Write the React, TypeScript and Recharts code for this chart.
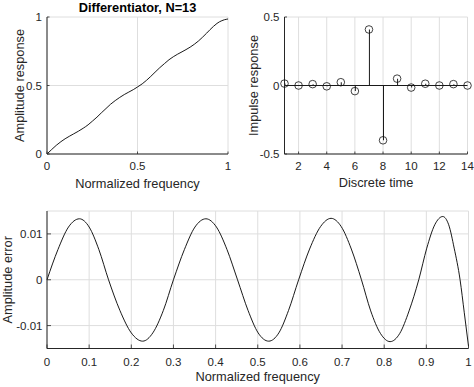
import React from 'react';
import {
  LineChart, Line, XAxis, YAxis, CartesianGrid, ComposedChart, Bar, Scatter, ReferenceLine, Label,
} from 'recharts';

// normalized frequency samples (shared by both frequency plots)
const freq = [
  0, 0.026, 0.051, 0.077, 0.1, 0.123, 0.146, 0.173, 0.2, 0.227, 0.251, 0.276, 0.3,
  0.326, 0.351, 0.377, 0.402, 0.427, 0.452, 0.477, 0.501, 0.526, 0.55, 0.573, 0.597,
  0.623, 0.649, 0.674, 0.698, 0.722, 0.746, 0.768, 0.791, 0.814, 0.837, 0.859, 0.882,
  0.901, 0.92, 0.939, 0.953, 0.966, 0.98, 0.99, 1,
];
const ampResponse = [
  0, 0.033, 0.063, 0.09, 0.111, 0.129, 0.146, 0.166, 0.188, 0.213, 0.24, 0.269, 0.3,
  0.332, 0.363, 0.39, 0.413, 0.434, 0.452, 0.47, 0.49, 0.512, 0.538, 0.566, 0.597,
  0.63, 0.66, 0.688, 0.71, 0.729, 0.746, 0.762, 0.78, 0.801, 0.825, 0.852, 0.882,
  0.908, 0.932, 0.953, 0.965, 0.973, 0.98, 0.983, 0.9855,
];
const ampError = [
  0, 0.0066, 0.0115, 0.0133, 0.0115, 0.0066, 0, -0.0067, -0.0116, -0.0134, -0.0116, -0.0067, 0,
  0.0066, 0.0115, 0.0133, 0.0115, 0.0066, 0, -0.0067, -0.0116, -0.0134, -0.0116, -0.0067, 0,
  0.0067, 0.0116, 0.0134, 0.0116, 0.0067, 0, -0.0068, -0.0117, -0.0135, -0.0117, -0.0068, 0,
  0.0069, 0.012, 0.0138, 0.012, 0.0069, 0, -0.0072, -0.0145,
];

// impulse response
const sampleIndex = [1, 2, 3, 4, 5, 6, 7, 8, 9, 10, 11, 12, 13, 14];
const impulse = [0.014, 0, 0.01, -0.006, 0.024, -0.041, 0.409, -0.4, 0.05, -0.015, 0.013, 0, 0.01, 0];

const halfTicks = [0, 0.5, 1];
const tenthTicks = [0, 0.1, 0.2, 0.3, 0.4, 0.5, 0.6, 0.7, 0.8, 0.9, 1];
const timeTicks = [2, 4, 6, 8, 10, 12, 14];
const impulseTicks = [-0.5, 0, 0.5];
const errorTicks = [-0.01, 0, 0.01];

const responseRows = freq.map((f, i) => ({ f, a: ampResponse[i] }));
const errorRows = freq.map((f, i) => ({ f, e: ampError[i] }));
const impulseRows = sampleIndex.map((n, i) => ({ n, h: impulse[i] }));

const FONT = '"Liberation Sans", Arial, Helvetica, sans-serif';
const INK = '#262626';
const GRID = '#dedede';

type Side = 'bottom' | 'top' | 'left' | 'right';

// matlab style inward ticks
const tick = (side: Side, len: number, gap: number, labels = true) => (p: any) => {
  const { x, y, payload } = p;
  let seg;
  if (side === 'bottom') seg = <line x1={x} y1={y - gap} x2={x} y2={y - gap - len} />;
  else if (side === 'top') seg = <line x1={x} y1={y + gap} x2={x} y2={y + gap + len} />;
  else if (side === 'left') seg = <line x1={x + gap} y1={y} x2={x + gap + len} y2={y} />;
  else seg = <line x1={x - gap} y1={y} x2={x - gap - len} y2={y} />;
  return (
    <g>
      <g stroke={INK} strokeWidth={0.8}>{seg}</g>
      {labels && (
        <text x={x} y={y} dy={side === 'bottom' ? '0.71em' : '0.355em'}
          textAnchor={side === 'bottom' ? 'middle' : 'end'}
          fontSize={11.5} fontFamily={FONT} fill={INK}>
          {String(payload.value)}
        </text>
      )}
    </g>
  );
};

const xTitle = (text: string, baseline: number) => (p: any) => {
  const vb = p.viewBox;
  return (
    <text x={vb.x + vb.width / 2} y={baseline} textAnchor="middle" fontSize={12.8} fontFamily={FONT} fill={INK}>
      {text}
    </text>
  );
};

const yTitle = (text: string, cx: number) => (p: any) => {
  const vb = p.viewBox;
  const cy = vb.y + vb.height / 2;
  return (
    <text x={cx} y={cy} dy="0.355em" transform={`rotate(-90 ${cx} ${cy})`} textAnchor="middle"
      fontSize={12.8} fontFamily={FONT} fill={INK}>
      {text}
    </text>
  );
};

const plotTitle = (text: string, baseline: number) => (p: any) => {
  const vb = p.viewBox;
  return (
    <text x={vb.x + vb.width / 2} y={baseline} textAnchor="middle" fontSize={12.8} fontWeight="bold"
      fontFamily={FONT} fill="#000">
      {text}
    </text>
  );
};

const axisLine = { stroke: INK, strokeWidth: 1 };

const Circle = (p: any) => (
  <circle cx={p.cx} cy={p.cy} r={3.8} fill="none" stroke="#111" strokeWidth={0.8} />
);

export default function App() {
  return (
    <div style={{ position: 'absolute', left: 0, top: 0, width: 474, height: 387, background: '#fff' }}>
      <div style={{ position: 'absolute', left: 0, top: 0 }}>
        <LineChart width={234} height={195} data={responseRows} margin={{ top: 17, right: 6, bottom: 0, left: 0 }}>
          <CartesianGrid stroke={GRID} />
          <XAxis dataKey="f" type="number" domain={[0, 1]} ticks={halfTicks} interval={0} height={41}
            tickSize={0} tickMargin={8} tick={tick('bottom', 2.5, 8)} axisLine={axisLine}>
            <Label content={xTitle('Normalized frequency', 187.5)} />
            <Label content={plotTitle('Differentiator, N=13', 11.5)} />
          </XAxis>
          <XAxis xAxisId="t" orientation="top" dataKey="f" type="number" domain={[0, 1]} ticks={halfTicks}
            interval={0} height={0} tickSize={0} tickMargin={0} tick={tick('top', 2.5, 0, false)} axisLine={axisLine} />
          <YAxis type="number" domain={[0, 1]} ticks={halfTicks} interval={0} width={47}
            tickSize={0} tickMargin={5} tick={tick('left', 2.5, 5)} axisLine={axisLine}>
            <Label content={yTitle('Amplitude response', 19)} />
          </YAxis>
          <YAxis yAxisId="r" orientation="right" type="number" domain={[0, 1]} ticks={halfTicks} interval={0}
            width={0} tickSize={0} tickMargin={0} tick={tick('right', 2.5, 0, false)} axisLine={axisLine} />
          <Line dataKey="a" type="monotone" dot={false} stroke="#000" strokeWidth={0.9} isAnimationActive={false} />
        </LineChart>
      </div>

      <div style={{ position: 'absolute', left: 234, top: 0 }}>
        <ComposedChart width={240} height={195} data={impulseRows} margin={{ top: 17, right: 6.5, bottom: 0, left: 0 }}>
          <CartesianGrid stroke={GRID} />
          <XAxis dataKey="n" type="number" domain={[1, 14]} ticks={timeTicks} interval={0} height={41}
            tickSize={0} tickMargin={8} tick={tick('bottom', 2.5, 8)} axisLine={axisLine}>
            <Label content={xTitle('Discrete time', 186.5)} />
          </XAxis>
          <XAxis xAxisId="t" orientation="top" dataKey="n" type="number" domain={[1, 14]} ticks={timeTicks}
            interval={0} height={0} tickSize={0} tickMargin={0} tick={tick('top', 2.5, 0, false)} axisLine={axisLine} />
          <YAxis type="number" domain={[-0.5, 0.5]} ticks={impulseTicks} interval={0} width={50.5}
            tickSize={0} tickMargin={5} tick={tick('left', 2.5, 5)} axisLine={axisLine}>
            <Label content={yTitle('Impulse response', 19)} />
          </YAxis>
          <YAxis yAxisId="r" orientation="right" type="number" domain={[-0.5, 0.5]} ticks={impulseTicks} interval={0}
            width={0} tickSize={0} tickMargin={0} tick={tick('right', 2.5, 0, false)} axisLine={axisLine} />
          <ReferenceLine y={0} stroke="#1a1a1a" strokeWidth={1} />
          <Bar dataKey="h" barSize={1} fill="#1a1a1a" isAnimationActive={false} />
          <Scatter dataKey="h" shape={Circle} isAnimationActive={false} />
        </ComposedChart>
      </div>

      <div style={{ position: 'absolute', left: 0, top: 195 }}>
        <LineChart width={474} height={192} data={errorRows} margin={{ top: 16, right: 5.5, bottom: 0, left: 0 }}>
          <CartesianGrid stroke={GRID} />
          <XAxis dataKey="f" type="number" domain={[0, 1]} ticks={tenthTicks} interval={0} height={38.5}
            tickSize={0} tickMargin={9.3} tick={tick('bottom', 4, 9.3)} axisLine={axisLine}>
            <Label content={xTitle('Normalized frequency', 186)} />
          </XAxis>
          <XAxis xAxisId="t" orientation="top" dataKey="f" type="number" domain={[0, 1]} ticks={tenthTicks}
            interval={0} height={0} tickSize={0} tickMargin={0} tick={tick('top', 4, 0, false)} axisLine={axisLine} />
          <YAxis type="number" domain={[-0.015, 0.015]} ticks={errorTicks} interval={0} width={47}
            tickSize={0} tickMargin={4.5} tick={tick('left', 4, 4.5)} axisLine={axisLine}>
            <Label content={yTitle('Amplitude error', 7)} />
          </YAxis>
          <YAxis yAxisId="r" orientation="right" type="number" domain={[-0.015, 0.015]} ticks={errorTicks} interval={0}
            width={0} tickSize={0} tickMargin={0} tick={tick('right', 4, 0, false)} axisLine={axisLine} />
          <Line dataKey="e" type="monotone" dot={false} stroke="#000" strokeWidth={0.9} isAnimationActive={false} />
        </LineChart>
      </div>
    </div>
  );
}
